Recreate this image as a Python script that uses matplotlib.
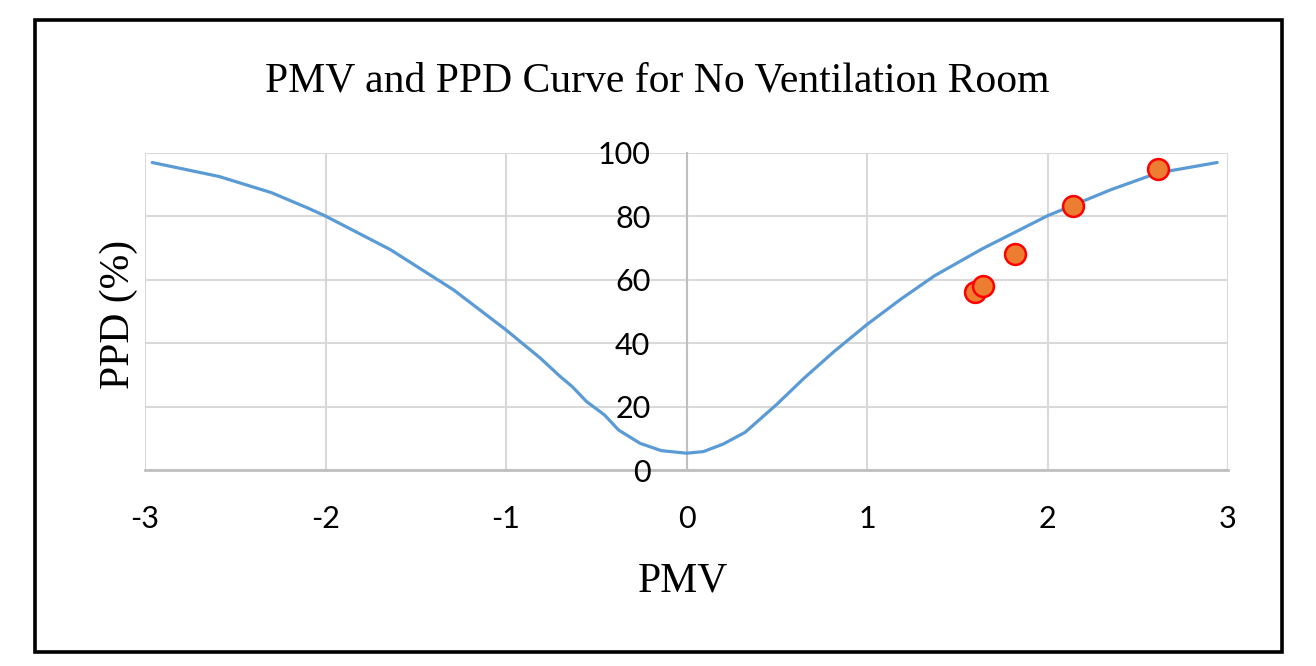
import matplotlib
matplotlib.use("Agg")
import matplotlib.pyplot as plt
from matplotlib.patches import Rectangle

plt.rcParams['axes.unicode_minus'] = False

# Data
curve_pmv = [-2.96, -2.59, -2.3, -2.096, -2.0, -1.64, -1.29, -1.0, -0.81, -0.70, -0.633,
             -0.554, -0.455, -0.376, -0.257, -0.139, 0.0, 0.093, 0.204, 0.325, 0.50,
             0.65, 0.818, 1.0, 1.19, 1.375, 1.636, 2.0, 2.35, 2.61, 2.94]
curve_ppd = [97.0, 92.6, 87.5, 82.6, 80.1, 69.5, 56.8, 44.2, 35.3, 29.5, 26.3,
             21.6, 17.4, 12.6, 8.4, 6.1, 5.3, 5.8, 8.2, 11.9, 20.7,
             28.9, 37.4, 45.9, 54.0, 61.3, 69.7, 80.2, 88.4, 93.7, 97.0]

obs_pmv = [1.60, 1.644, 1.82, 2.143, 2.61]
obs_ppd = [56.0, 58.2, 68.1, 83.2, 95.1]

x_ticks = [-3, -2, -1, 0, 1, 2, 3]
y_ticks = [0, 20, 40, 60, 80, 100]

title = "PMV and PPD Curve for No Ventilation Room"
x_label = "PMV"
y_label = "PPD (%)"

W, H = 1316, 666
fig = plt.figure(figsize=(W / 100, H / 100), dpi=100)
fig.patch.set_facecolor('white')

# outer border
fig.add_artist(Rectangle((35 / W, 1 - 652 / H), (1282 - 35) / W, (652 - 20) / H,
                         transform=fig.transFigure, fill=False, edgecolor='black',
                         linewidth=2.6))

left, right, top, bottom = 145, 1228, 153, 470
ax = fig.add_axes([left / W, 1 - bottom / H, (right - left) / W, (bottom - top) / H])
ax.set_xlim(-3, 3)
ax.set_ylim(0, 100)

grid_c = '#d9d9d9'
axis_c = '#bfbfbf'
for xv in x_ticks:
    ax.axvline(xv, color=grid_c, linewidth=1.5, zorder=0)
for yv in y_ticks:
    ax.axhline(yv, color=grid_c, linewidth=1.5, zorder=0)

for s in ['top', 'right']:
    ax.spines[s].set_visible(False)
ax.spines['left'].set_position(('data', 0))
ax.spines['left'].set_color(axis_c)
ax.spines['left'].set_linewidth(1.5)
ax.spines['bottom'].set_color(axis_c)
ax.spines['bottom'].set_linewidth(2)
ax.spines['left'].set_zorder(1)
ax.spines['bottom'].set_zorder(1)

ax.plot(curve_pmv, curve_ppd, color='#5B9BD5', linewidth=2.3, zorder=3,
        solid_capstyle='round', solid_joinstyle='round')
ax.plot(obs_pmv, obs_ppd, linestyle='none', marker='o', markersize=15,
        markerfacecolor='#ED7D31', markeredgecolor='#FF0000', markeredgewidth=1.8,
        zorder=4)

ax.set_xticks(x_ticks)
ax.set_xticklabels([str(v) for v in x_ticks])
ax.set_yticks(y_ticks)
ax.set_yticklabels([str(v) for v in y_ticks])
ax.tick_params(axis='both', length=0, labelsize=22, colors='black')
ax.tick_params(axis='x', pad=25)
ax.tick_params(axis='y', pad=26)
for lab in ax.get_xticklabels() + ax.get_yticklabels():
    lab.set_family(['Lato', 'DejaVu Sans'])
    lab.set_zorder(5)

serif = ['Liberation Serif', 'DejaVu Serif']
fig.text(657.5 / W, 1 - 92 / H, title, ha='center', va='baseline', fontsize=30,
         family=serif)
fig.text(683 / W, 1 - 591 / H, x_label, ha='center', va='baseline', fontsize=30,
         family=serif)
fig.text(119 / W, 1 - 314 / H, y_label, ha='center', va='center', fontsize=30,
         family=serif, rotation=90)

fig.savefig('out.png', dpi=100)
